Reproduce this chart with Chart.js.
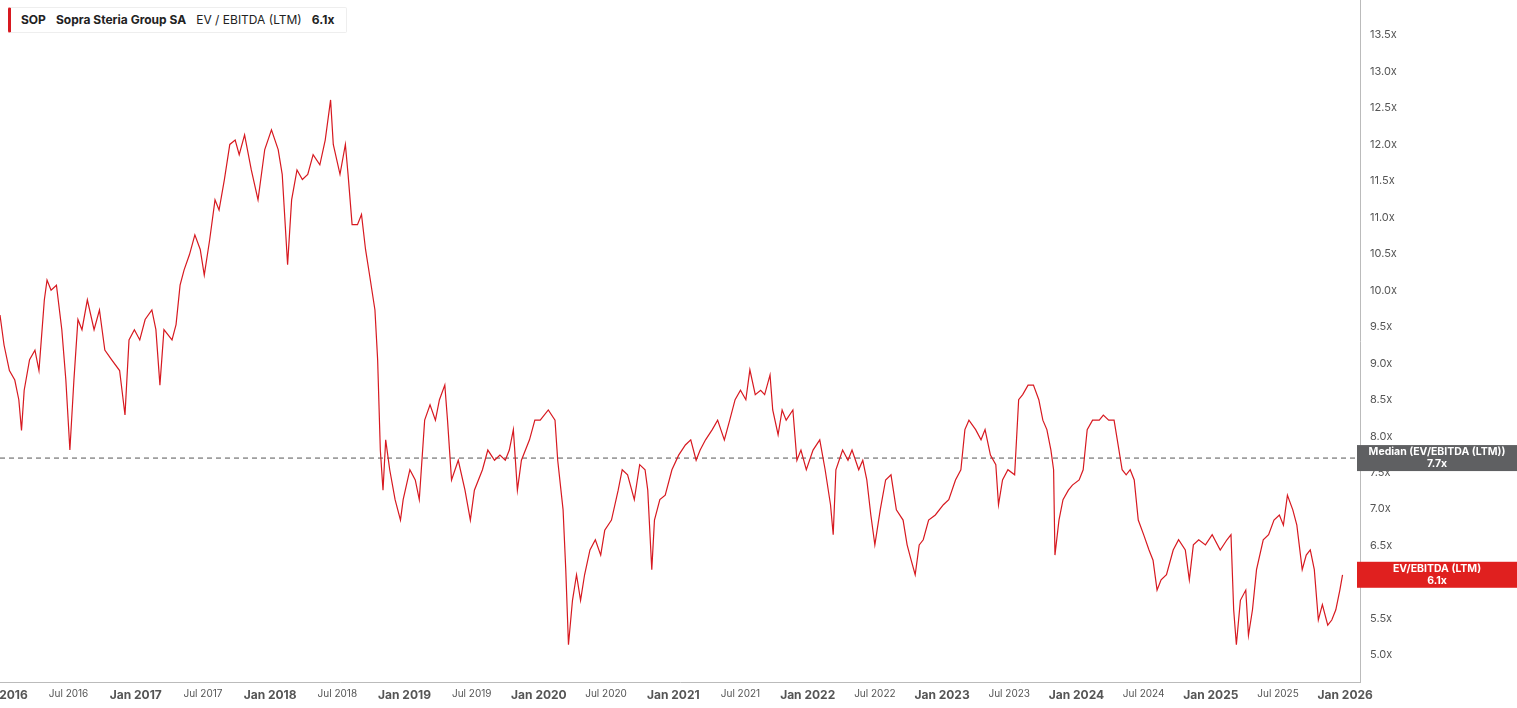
<!DOCTYPE html>
<html>
<head>
<meta charset="utf-8">
<script src="https://cdn.jsdelivr.net/npm/chart.js@4"></script>
<style>
  body { margin: 0; background: #fff; font-family: Inter, "Noto Sans", sans-serif; }
  #wrap { position: relative; width: 1517px; height: 708px; overflow: hidden; }
  #tag { position: absolute; left: 8px; top: 7px; height: 24px; padding: 0 12px 0 10px; border: 1px solid #eee;
         border-left: 3px solid #d71920; border-radius: 2px; background: #fff; font-size: 12px; line-height: 24px; color: #222; }
  #tag b { font-weight: 700; }
</style>
</head>
<body>
<div id="wrap">
  <canvas id="chart" width="1517" height="708"></canvas>
  <div id="tag"><b>SOP</b>&nbsp;&nbsp; <b>Sopra Steria Group SA</b>&nbsp;&nbsp; EV / EBITDA (LTM)&nbsp;&nbsp; <b>6.1x</b></div>
</div>
<script>
// dates as decimal years, values in EV/EBITDA multiples
const dates = [2015.99,2016.02,2016.06,2016.10,2016.13,2016.15,2016.17,2016.21,2016.25,2016.28,2016.32,2016.34,2016.37,2016.41,2016.45,2016.48,2016.51,2016.54,2016.57,2016.60,2016.64,2016.69,2016.73,2016.77,2016.82,2016.88,2016.92,2016.95,2016.99,2017.03,2017.07,2017.12,2017.15,2017.18,2017.21,2017.27,2017.30,2017.33,2017.36,2017.40,2017.44,2017.48,2017.51,2017.55,2017.59,2017.62,2017.66,2017.70,2017.74,2017.77,2017.81,2017.86,2017.91,2017.96,2018.01,2018.06,2018.09,2018.13,2018.16,2018.20,2018.24,2018.28,2018.32,2018.37,2018.41,2018.45,2018.47,2018.52,2018.56,2018.58,2018.61,2018.65,2018.68,2018.71,2018.74,2018.78,2018.80,2018.82,2018.84,2018.86,2018.89,2018.93,2018.97,2018.99,2019.04,2019.08,2019.11,2019.15,2019.19,2019.23,2019.26,2019.30,2019.32,2019.35,2019.40,2019.45,2019.49,2019.52,2019.58,2019.62,2019.67,2019.71,2019.75,2019.78,2019.81,2019.84,2019.87,2019.93,2019.97,2020.01,2020.07,2020.12,2020.14,2020.18,2020.20,2020.22,2020.25,2020.28,2020.31,2020.34,2020.38,2020.42,2020.46,2020.49,2020.54,2020.59,2020.62,2020.66,2020.71,2020.75,2020.79,2020.81,2020.84,2020.86,2020.90,2020.94,2020.99,2021.04,2021.09,2021.13,2021.17,2021.20,2021.24,2021.29,2021.33,2021.38,2021.42,2021.46,2021.50,2021.54,2021.57,2021.61,2021.65,2021.68,2021.72,2021.74,2021.78,2021.81,2021.84,2021.89,2021.92,2021.95,2021.99,2022.04,2022.09,2022.13,2022.17,2022.19,2022.21,2022.26,2022.30,2022.33,2022.38,2022.41,2022.44,2022.47,2022.50,2022.54,2022.58,2022.62,2022.66,2022.71,2022.74,2022.77,2022.80,2022.83,2022.86,2022.90,2022.95,2023.01,2023.05,2023.10,2023.14,2023.17,2023.20,2023.25,2023.29,2023.32,2023.36,2023.40,2023.42,2023.45,2023.49,2023.54,2023.57,2023.60,2023.64,2023.68,2023.72,2023.75,2023.78,2023.81,2023.83,2023.84,2023.87,2023.90,2023.94,2023.97,2024.02,2024.05,2024.08,2024.12,2024.17,2024.20,2024.24,2024.28,2024.31,2024.34,2024.37,2024.40,2024.43,2024.46,2024.50,2024.54,2024.57,2024.60,2024.63,2024.67,2024.72,2024.76,2024.81,2024.84,2024.87,2024.91,2024.96,2025.01,2025.07,2025.12,2025.15,2025.17,2025.19,2025.22,2025.26,2025.28,2025.31,2025.34,2025.39,2025.43,2025.47,2025.51,2025.54,2025.57,2025.61,2025.64,2025.68,2025.71,2025.74,2025.77,2025.80,2025.83,2025.87,2025.90,2025.93,2025.96,2025.98];
const multiples = [9.66,9.25,8.9,8.77,8.5,8.08,8.63,9.05,9.18,8.9,9.87,10.14,10.0,10.07,9.46,8.77,7.81,8.77,9.6,9.46,9.87,9.46,9.73,9.18,9.05,8.9,8.29,9.32,9.46,9.32,9.6,9.73,9.46,8.7,9.46,9.32,9.53,10.07,10.28,10.49,10.76,10.56,10.21,10.69,11.24,11.1,11.52,12.0,12.06,11.86,12.13,11.65,11.24,11.93,12.2,11.93,11.59,10.35,11.24,11.65,11.52,11.59,11.86,11.72,12.06,12.61,12.0,11.59,12.0,11.59,10.9,10.9,11.04,10.56,10.21,9.73,9.05,7.81,7.26,7.95,7.54,7.13,6.85,7.13,7.54,7.4,7.13,8.22,8.43,8.22,8.5,8.7,8.22,7.4,7.67,7.26,6.85,7.26,7.54,7.81,7.67,7.74,7.67,7.81,8.09,7.26,7.67,7.95,8.22,8.22,8.36,8.22,7.67,6.99,6.17,5.14,5.75,6.1,5.75,6.1,6.44,6.58,6.37,6.71,6.85,7.26,7.54,7.47,7.13,7.61,7.54,7.26,6.17,6.85,7.13,7.19,7.54,7.74,7.88,7.95,7.67,7.81,7.95,8.09,8.22,7.95,8.22,8.5,8.63,8.5,8.91,8.57,8.63,8.57,8.84,8.36,8.02,8.36,8.22,8.36,7.67,7.81,7.54,7.81,7.95,7.54,7.06,6.65,7.54,7.81,7.67,7.81,7.54,7.67,7.4,6.92,6.51,6.99,7.4,7.47,6.99,6.85,6.51,6.3,6.1,6.51,6.58,6.85,6.92,7.06,7.13,7.4,7.54,8.09,8.22,8.09,7.95,8.09,7.74,7.61,7.06,7.4,7.54,7.47,8.5,8.57,8.7,8.7,8.5,8.22,8.09,7.81,7.54,6.37,6.85,7.13,7.26,7.33,7.4,7.54,8.09,8.22,8.22,8.29,8.22,8.22,7.88,7.54,7.47,7.54,7.4,6.85,6.65,6.44,6.3,5.89,6.03,6.1,6.44,6.58,6.44,6.03,6.51,6.58,6.51,6.65,6.44,6.58,6.65,5.62,5.14,5.75,5.89,5.27,5.62,6.17,6.58,6.65,6.85,6.92,6.78,7.19,6.99,6.78,6.17,6.37,6.44,6.17,5.48,5.69,5.41,5.48,5.62,5.89,6.1];
const median = 7.7;
const current = 6.1;
const yTicks = [5.0,5.5,6.0,6.5,7.0,7.5,8.0,8.5,9.0,9.5,10.0,10.5,11.0,11.5,12.0,12.5,13.0,13.5];
const xTicks = [2016,2016.5,2017,2017.5,2018,2018.5,2019,2019.5,2020,2020.5,2021,2021.5,2022,2022.5,2023,2023.5,2024,2024.5,2025,2025.5,2026];

function xLabel(v) {
  const y = Math.floor(v + 0.001);
  return (v - y > 0.25 ? "Jul " : "Jan ") + y;
}

const sideLabels = {
  id: "sideLabels",
  afterDraw(chart) {
    const c = chart.ctx, ys = chart.scales.y, area = chart.chartArea;
    const boxes = [
      { v: median, bg: "#5f6062", t1: "Median (EV/EBITDA (LTM))", t2: median.toFixed(1) + "x" },
      { v: current, bg: "#e0201f", t1: "EV/EBITDA (LTM)", t2: current.toFixed(1) + "x" }
    ];
    boxes.forEach(b => {
      const yc = ys.getPixelForValue(b.v);
      const x0 = area.right - 3, w = chart.width - x0;
      c.save();
      c.fillStyle = b.bg;
      c.fillRect(x0, yc - 13, w, 26);
      c.fillStyle = "#fff";
      c.font = "bold 10.5px Inter, sans-serif";
      c.textAlign = "center";
      c.textBaseline = "middle";
      c.fillText(b.t1, x0 + w / 2, yc - 6);
      c.fillText(b.t2, x0 + w / 2, yc + 6);
      c.restore();
    });
  }
};

new Chart(document.getElementById("chart"), {
  type: "line",
  data: {
    datasets: [{
      data: dates.map((d, i) => ({ x: d, y: multiples[i] })),
      borderColor: "#d71920",
      borderWidth: 1.2,
      pointRadius: 0,
      tension: 0
    }, {
      data: [{ x: 2015.99, y: median }, { x: 2026.11, y: median }],
      borderColor: "#555",
      borderWidth: 1,
      borderDash: [5, 4],
      pointRadius: 0
    }]
  },
  options: {
    responsive: false,
    animation: false,
    layout: { padding: 0 },
    plugins: { legend: { display: false }, tooltip: { enabled: false } },
    scales: {
      x: {
        type: "linear",
        min: 2015.99,
        max: 2026.11,
        afterBuildTicks: s => { s.ticks = xTicks.map(v => ({ value: v })); },
        afterFit: s => { s.height = 26; s.paddingLeft = 0; s.paddingRight = 0; },
        grid: { display: false, drawTicks: false },
        border: { color: "#bbb" },
        ticks: {
          maxRotation: 0,
          autoSkip: false,
          padding: 6,
          color: "#555",
          callback: v => xLabel(v),
          font: ctx => (ctx.tick && Math.abs(ctx.tick.value % 1) > 0.25)
            ? { size: 10, family: "Inter" }
            : { size: 12, weight: "bold", family: "Inter" }
        }
      },
      y: {
        position: "right",
        min: 4.63,
        max: 13.98,
        afterBuildTicks: s => { s.ticks = yTicks.map(v => ({ value: v })); },
        afterFit: s => { s.width = 157; s.paddingTop = 0; s.paddingBottom = 0; },
        grid: { display: false, drawOnChartArea: false, tickLength: 4, color: "#999" },
        border: { color: "#bbb" },
        ticks: {
          color: "#555",
          padding: 6,
          font: { size: 11, family: "Inter" },
          callback: v => v.toFixed(1) + "x"
        }
      }
    }
  },
  plugins: [sideLabels]
});
</script>
</body>
</html>
